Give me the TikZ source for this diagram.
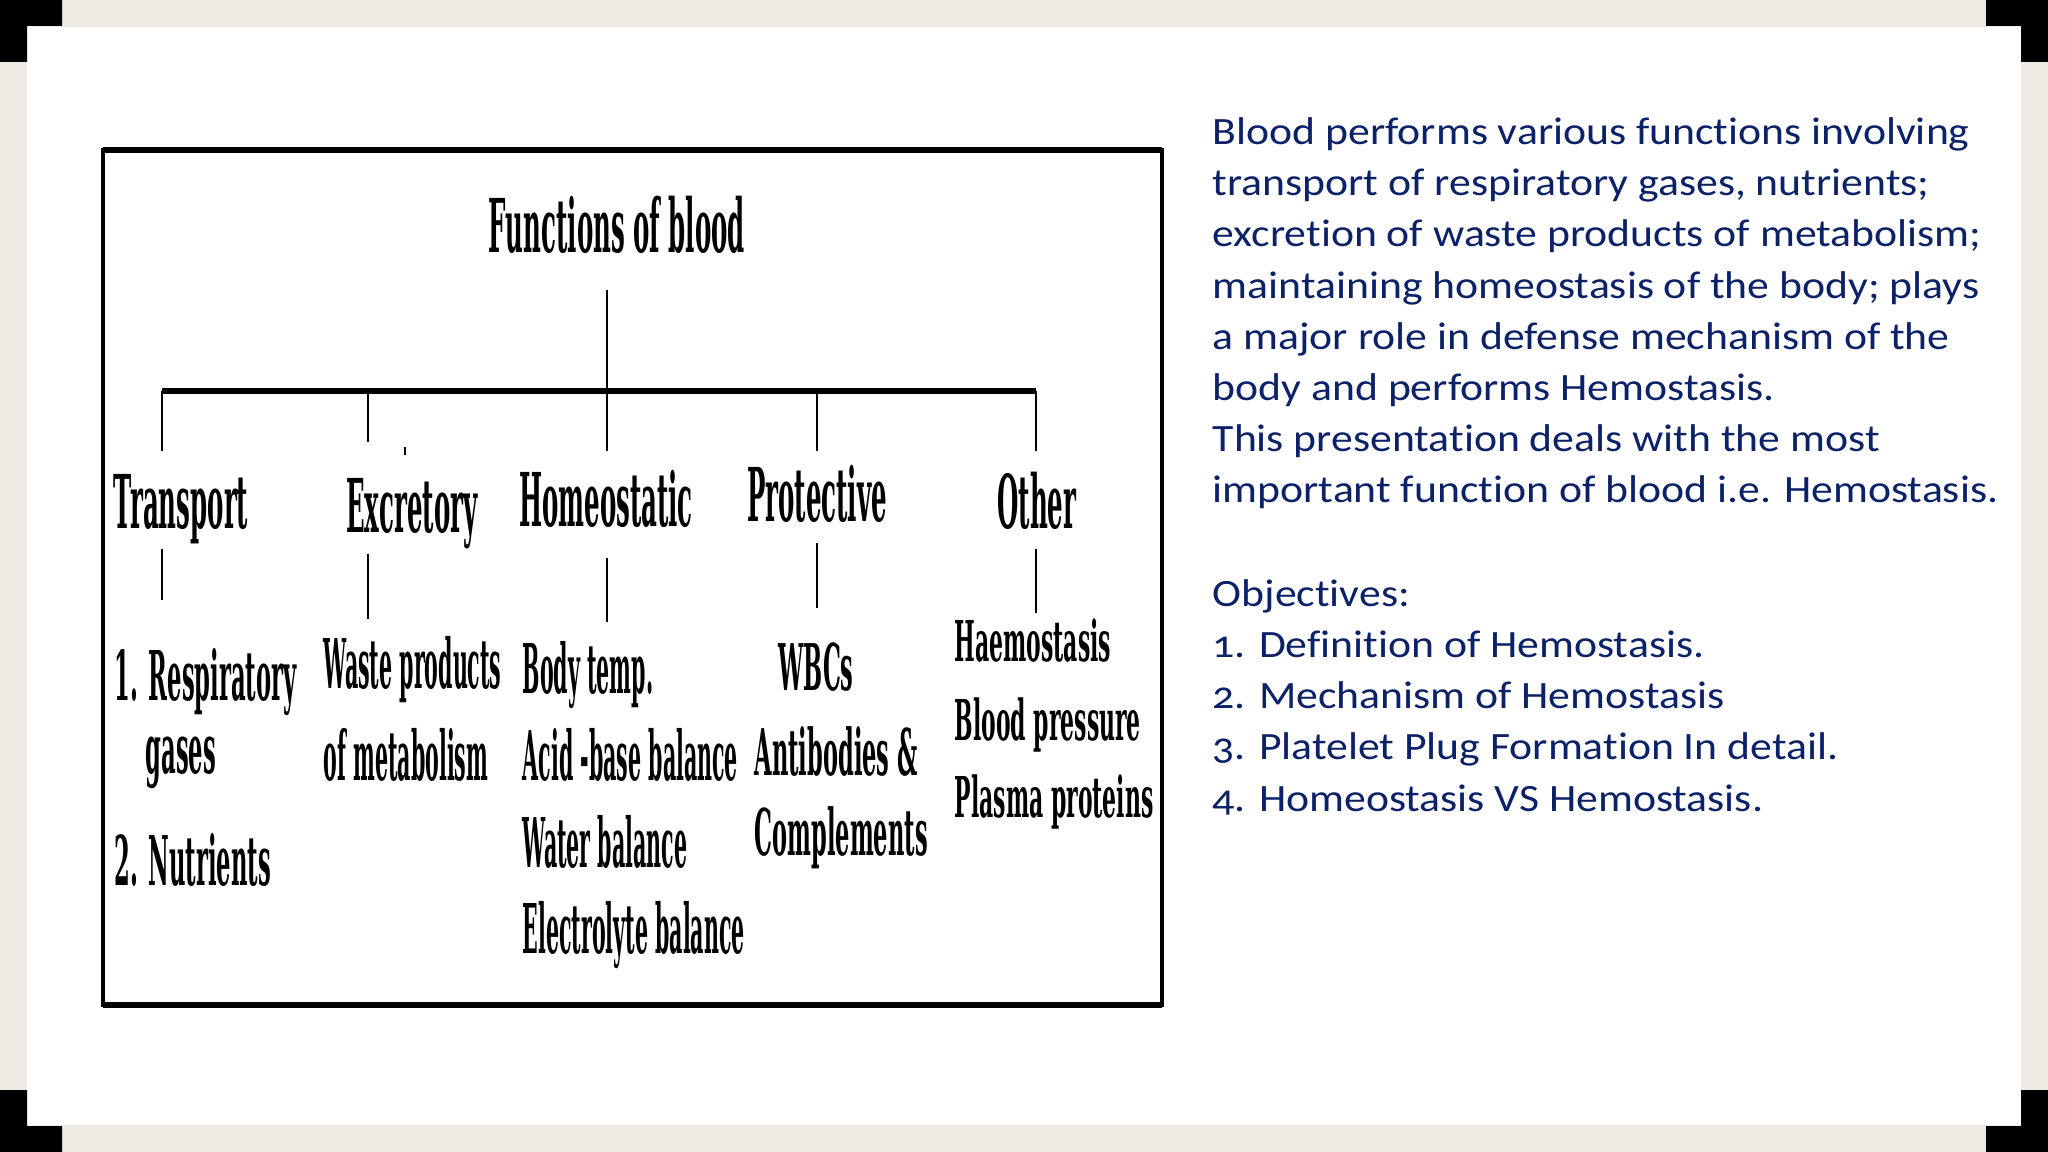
\documentclass[tikz,border=0pt]{standalone}
\usepackage{fontspec}
\newfontfamily\chartfont[FakeStretch=0.33]{DejaVu Serif}
\newfontfamily\itemfont[FakeStretch=0.30]{DejaVu Serif}
\newfontfamily\guardfont[FakeStretch=0.35]{DejaVu Serif}
\newfontfamily\restfont[FakeStretch=0.39]{DejaVu Serif}
\newfontfamily\slidefont[FakeStretch=1.13,Numbers=OldStyle,Ligatures=NoCommon]{Carlito}
\definecolor{slidebg}{RGB}{237,234,228}
\definecolor{navy}{RGB}{12,34,104}
\usetikzlibrary{positioning}

\begin{document}
\begin{tikzpicture}[x=0.01cm,y=-0.01cm,
  rootlbl/.style={font=\chartfont\bfseries\fontsize{21.1}{25}\selectfont,inner sep=0pt,anchor=base},
  catlbl/.style={rootlbl,text height=0.55cm,text depth=0.2cm},
  itemlbl/.style={font=\itemfont\bfseries\fontsize{19.5}{19.5}\selectfont,inner sep=0pt,anchor=base west},
  gaslbl/.style={itemlbl,font=\chartfont\bfseries\fontsize{19.5}{19.5}\selectfont},
  guardlbl/.style={itemlbl,font=\guardfont\bfseries\fontsize{18.3}{18.3}\selectfont},
  restlbl/.style={itemlbl,font=\restfont\bfseries\fontsize{16}{16}\selectfont},
  link/.style={line width=0.6pt},
  trunk/.style={line width=1.7pt},
  para/.style={font=\slidefont\fontsize{11}{14.57}\selectfont,text=navy,align=left,inner sep=0pt,anchor=base west}
]
  \useasboundingbox (0,0) rectangle (2048,1152);
  % slide background and corner marks
  \fill[slidebg] (0,0) rectangle (2048,1152);
  \fill[white] (27,27) rectangle (2021,1125);
  \foreach \sx/\sy/\cx/\cy in {1/1/0/0,-1/1/2048/0,1/-1/0/1152,-1/-1/2048/1152}
    { \fill[black,shift={(\cx,\cy)},xscale=\sx,yscale=\sy] (0,0)--(62,0)--(62,26)--(27,26)--(27,62)--(0,62)--cycle; }

  % chart frame
  \coordinate (fNW) at (103,150);
  \coordinate (fSE) at (1162,1005);
  \draw[line width=0.9pt] (fNW) rectangle (fSE);
  \draw[trunk] (fNW)--(fNW -| fSE) (fNW |- fSE)--(fSE);

  \node[rootlbl] (root) at (617,253) {Functions of blood};
  \node[catlbl] (trans) at (181,528)  {Transport};
  \node[catlbl] (excr)  at (412,533)  {Excretory};
  \node[catlbl] (homeo) at (606,527)  {Homeostatic};
  \node[catlbl] (prot)  at (817,522)  {Protective};
  \node[catlbl] (other) at (1037,528) {Other};

  \node[gaslbl] (resp)  at (114,700) {1. Respiratory};
  \node[gaslbl] (gases) at (145,773) {gases};
  \node[gaslbl] (nutr)  at (114,885) {2. Nutrients};
  \node[itemlbl] (waste) at (323,688) {Waste products};
  \node[itemlbl] (metab) at (323,780) {of metabolism};
  \node[itemlbl] (body)  at (522,693) {Body temp.};
  \node[itemlbl] (acid)  at (522,780) {Acid -base balance};
  \node[itemlbl] (water) at (522,867) {Water balance};
  \node[itemlbl] (elec)  at (522,953) {Electrolyte balance};
  \node[guardlbl,anchor=base] (wbc) at (816,690) {WBCs};
  \node[guardlbl] (anti)  at (754,775) {Antibodies \&};
  \node[guardlbl] (compl) at (754,855) {Complements};
  \node[restlbl] (haem)   at (954,662) {Haemostasis};
  \node[restlbl] (bp)     at (954,740) {Blood pressure};
  \node[restlbl] (plasma) at (954,817) {Plasma proteins};

  % tree lines
  \foreach \x [count=\i] in {162,368,607,817,1036} { \coordinate (b\i) at (\x,391); }
  \draw[link,shorten <=0.35cm] (b3 |- root.south)--(b3);
  \draw[trunk] (b1)--(b5);
  \foreach \i/\c/\s in {1/trans/0.21,2/excr/0.35,3/homeo/0.2,4/prot/0.15,5/other/0.21}
    { \draw[link,shorten >=\s cm] (b\i)--(b\i |- \c.north); }
  \foreach \i/\c/\t/\s/\e in {1/trans/resp/0/0.47,2/excr/waste/0/0.16,3/homeo/body/0.1/0.18,4/prot/wbc/0/0.34,5/other/haem/0/0.06}
    { \draw[link,shorten <=\s cm,shorten >=\e cm] (b\i |- \c.south)--(b\i |- \t.north); }
  \coordinate (tickA) at (405,447);
  \coordinate (tickB) at (405,455);
  \draw[link] (tickA)--(tickB);

  % slide text (base = last line)
  \node[para] (intro) at (1212,503) {Blood performs various functions involving\\
    transport of respiratory gases, nutrients;\\
    excretion of waste products of metabolism;\\
    maintaining homeostasis of the body; plays\\
    a major role in defense mechanism of the\\
    body and performs Hemostasis.\\
    This presentation deals with the most\\
    important function of blood i.e. Hemostasis.};
  \node[para] (goals) at (1212,811) {Objectives:\\
    1. Definition of Hemostasis.\\
    2. Mechanism of Hemostasis\\
    3. Platelet Plug Formation In detail.\\
    4. Homeostasis VS Hemostasis.};
\end{tikzpicture}
\end{document}
